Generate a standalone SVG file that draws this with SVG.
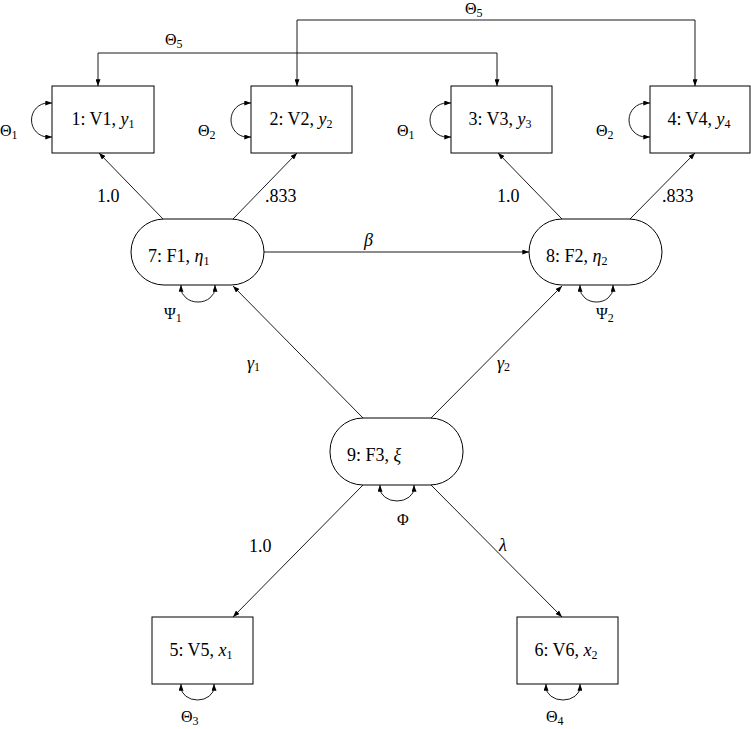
<svg xmlns="http://www.w3.org/2000/svg" width="751" height="729" viewBox="0 0 751 729">
<style>
text{font-family:"Liberation Serif","Times New Roman",serif;fill:#000}
.n{font-size:18px}
.l{font-size:16px}
.s{font-size:12px}
.i{font-style:italic}
.box{fill:#fff;stroke:#000;stroke-width:1}
.c{fill:none;stroke:#000;stroke-width:0.9}
</style>
<defs>
<marker id="ah" viewBox="0 0 8 6" refX="8" refY="3" markerWidth="7" markerHeight="5" markerUnits="userSpaceOnUse" orient="auto-start-reverse">
<path d="M0,0 L8,3 L0,6 z" fill="#000"/>
</marker>
</defs>
<rect width="751" height="729" fill="#fff"/>
<g id="connectors">
<line class="c" x1="163" y1="219" x2="99" y2="153" marker-end="url(#ah)"/>
<line class="c" x1="233" y1="219" x2="297" y2="153" marker-end="url(#ah)"/>
<line class="c" x1="562" y1="219" x2="498" y2="153" marker-end="url(#ah)"/>
<line class="c" x1="630" y1="219" x2="695" y2="153" marker-end="url(#ah)"/>
<line class="c" x1="264" y1="252" x2="529" y2="252" marker-end="url(#ah)"/>
<line class="c" x1="363" y1="418" x2="233" y2="286" marker-end="url(#ah)"/>
<line class="c" x1="431" y1="418" x2="562" y2="286" marker-end="url(#ah)"/>
<line class="c" x1="363" y1="485" x2="233" y2="617" marker-end="url(#ah)"/>
<line class="c" x1="431" y1="485" x2="562" y2="617" marker-end="url(#ah)"/>
<path class="c" d="M98,86 L98,53 L497,53 L497,86" marker-start="url(#ah)" marker-end="url(#ah)"/>
<path class="c" d="M297,86 L297,20 L695,20 L695,86" marker-start="url(#ah)" marker-end="url(#ah)"/>
<path class="c" d="M52,103 L48,103 A16.5,17 0 0 0 48,137 L52,137" marker-start="url(#ah)" marker-end="url(#ah)"/>
<path class="c" d="M251,103 L247,103 A16,17 0 0 0 247,137 L251,137" marker-start="url(#ah)" marker-end="url(#ah)"/>
<path class="c" d="M451,103 L447,103 A17,17 0 0 0 447,137 L451,137" marker-start="url(#ah)" marker-end="url(#ah)"/>
<path class="c" d="M650,103 L646,103 A17,17 0 0 0 646,137 L650,137" marker-start="url(#ah)" marker-end="url(#ah)"/>
<path class="c" d="M181,285 L181,288 A17,14 0 0 0 215,288 L215,285" marker-start="url(#ah)" marker-end="url(#ah)"/>
<path class="c" d="M580,285 L580,288 A16.5,14 0 0 0 613,288 L613,285" marker-start="url(#ah)" marker-end="url(#ah)"/>
<path class="c" d="M380,485 L380,488 A17,13 0 0 0 414,488 L414,485" marker-start="url(#ah)" marker-end="url(#ah)"/>
<path class="c" d="M181,684 L181,687 A16.5,13 0 0 0 214,687 L214,684" marker-start="url(#ah)" marker-end="url(#ah)"/>
<path class="c" d="M546,684 L546,687 A17,13 0 0 0 580,687 L580,684" marker-start="url(#ah)" marker-end="url(#ah)"/>
</g>
<g id="labels">
<text class="l" x="465" y="14">Θ<tspan class="s" dy="3">5</tspan></text>
<text class="l" x="165" y="45">Θ<tspan class="s" dy="3">5</tspan></text>
<text class="l" x="0" y="136">Θ<tspan class="s" dy="3">1</tspan></text>
<text class="l" x="198" y="136">Θ<tspan class="s" dy="3">2</tspan></text>
<text class="l" x="397" y="136">Θ<tspan class="s" dy="3">1</tspan></text>
<text class="l" x="596" y="136">Θ<tspan class="s" dy="3">2</tspan></text>
<text class="n" x="97" y="202">1.0</text>
<text class="n" x="265" y="202">.833</text>
<text class="n" x="497" y="202">1.0</text>
<text class="n" x="662" y="202">.833</text>
<text class="n i" x="364" y="246">β</text>
<text class="l" x="164" y="319">Ψ<tspan class="s" dy="3">1</tspan></text>
<text class="l" x="596" y="319">Ψ<tspan class="s" dy="3">2</tspan></text>
<text class="n i" x="247" y="369">γ<tspan class="s" dy="2" font-style="normal">1</tspan></text>
<text class="n i" x="497" y="369">γ<tspan class="s" dy="2" font-style="normal">2</tspan></text>
<text class="l" x="397" y="525">Φ</text>
<text class="n" x="249" y="552">1.0</text>
<text class="n i" x="499" y="551">λ</text>
<text class="l" x="181" y="722">Θ<tspan class="s" dy="3">3</tspan></text>
<text class="l" x="546" y="722">Θ<tspan class="s" dy="3">4</tspan></text>
</g>
<g id="n1"><rect class="box" x="52" y="86" width="102" height="67"/><text class="n" x="103" y="125" text-anchor="middle">1: V1, <tspan class="i">y</tspan><tspan class="s" dy="3">1</tspan></text></g>
<g id="n2"><rect class="box" x="251" y="86" width="101" height="67"/><text class="n" x="301" y="125" text-anchor="middle">2: V2, <tspan class="i">y</tspan><tspan class="s" dy="3">2</tspan></text></g>
<g id="n3"><rect class="box" x="451" y="86" width="101" height="67"/><text class="n" x="500" y="125" text-anchor="middle">3: V3, <tspan class="i">y</tspan><tspan class="s" dy="3">3</tspan></text></g>
<g id="n4"><rect class="box" x="650" y="86" width="100" height="67"/><text class="n" x="699" y="125" text-anchor="middle">4: V4, <tspan class="i">y</tspan><tspan class="s" dy="3">4</tspan></text></g>
<g id="n5"><rect class="box" x="152" y="617" width="101" height="67"/><text class="n" x="201" y="656" text-anchor="middle">5: V5, <tspan class="i">x</tspan><tspan class="s" dy="3">1</tspan></text></g>
<g id="n6"><rect class="box" x="517" y="617" width="101" height="67"/><text class="n" x="566" y="656" text-anchor="middle">6: V6, <tspan class="i">x</tspan><tspan class="s" dy="3">2</tspan></text></g>
<g id="n7"><rect class="box" x="131" y="219" width="133" height="66" rx="33" ry="33"/><text class="n" x="148" y="262">7: F1, <tspan class="i">η</tspan><tspan class="s" dy="3">1</tspan></text></g>
<g id="n8"><rect class="box" x="529" y="219" width="133" height="66" rx="33" ry="33"/><text class="n" x="546" y="262">8: F2, <tspan class="i">η</tspan><tspan class="s" dy="3">2</tspan></text></g>
<g id="n9"><rect class="box" x="330" y="418" width="133" height="67" rx="33" ry="33"/><text class="n" x="347" y="461">9: F3, <tspan class="i">ξ</tspan></text></g>
</svg>
